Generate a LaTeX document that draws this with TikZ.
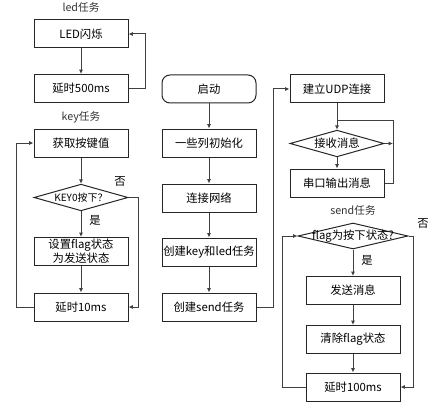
\documentclass[tikz,border=0pt]{standalone}
\usepackage{fontspec}
\setmainfont{Noto Sans CJK SC}
\usetikzlibrary{arrows.meta,calc,shapes.geometric}
\definecolor{lineGray}{HTML}{404040}
\tikzset{
  font=\fontsize{8.5}{10.5}\selectfont,
  arrow/.style={-{Latex[length=3.2pt,width=3pt]},draw=lineGray,line width=0.75pt},
  link/.style={draw=lineGray,line width=0.75pt},
  box/.style={rectangle,draw=black!85,line width=0.75pt,fill=white,
    minimum width=70.5pt,minimum height=21pt,inner sep=0pt,align=center},
  startbox/.style={box,rounded corners=6pt},
  decision/.style={diamond,draw=black!85,line width=0.75pt,fill=white,inner sep=0pt,
    minimum width=70.5pt,minimum height=20pt},
  tasktitle/.style={font=\fontsize{8}{10}\selectfont,text=black!80},
  yesno/.style={font=\fontsize{8.5}{10}\selectfont},
}
\begin{document}
\begin{tikzpicture}[x=0.75pt,y=-0.75pt]
\useasboundingbox (0,0) rectangle (432,403);

% led task
\node[tasktitle] (ledtitle) at (81,7) {led任务};
\node[box] (led) at (81,34) {LED闪烁};
\node[box] (delay500) at (81,88.5) {延时500ms};
\draw[arrow] (led) -- (delay500);
\draw[arrow] (delay500.east) -- ++(17,0) |- (led.east);

% key task
\node[tasktitle] (keytitle) at (81,117) {key任务};
\node[box] (getkey) at (81,143) {获取按键值};
\node[decision] (keydia) at (81,197.5) [label={[font=\fontsize{7.5}{9}\selectfont]center:KEY0按下？}] {};
\node[box] (setflag) at (81,251.5) {设置flag状态\\为发送状态};
\node[box] (delay10) at (81,307) {延时10ms};
\node[yesno] (keyno) at (120,182) {否};
\node[yesno] (keyyes) at (95,220) {是};
\draw[arrow] (getkey) -- (keydia);
\draw[arrow] (keydia) -- (setflag);
\draw[arrow] (setflag) -- (delay10);
\draw[arrow] (keydia.east) -- ++(10,0) |- (delay10.east);
\draw[arrow] (delay10.west) -- ++(-17,0) |- (getkey.west);

% main flow
\node[startbox] (start) at (209,89) {启动};
\node[box] (init) at (209,143) {一些列初始化};
\node[box] (net) at (209,198) {连接网络};
\node[box] (create) at (209,252) {创建key和led任务};
\node[box] (createsend) at (209,307) {创建send任务};
\draw[arrow] (start) -- (init);
\draw[arrow] (init) -- (net);
\draw[arrow] (net) -- (create);
\draw[arrow] (create) -- (createsend);

% udp
\node[box] (udp) at (337,89) {建立UDP连接};
\node[decision] (recvdia) at (337,143.5) [label=center:接收消息] {};
\node[box] (uart) at (337,183) {串口输出消息};
\coordinate (recvjoin) at (337,120);
\coordinate (recvloop) at (393,120);
\draw[arrow] (createsend.east) -- ++(17,0) |- (udp.west);
\draw[arrow] (udp) -- (recvdia);
\draw[arrow] (recvdia) -- (uart);
\draw[link] (uart.east) -| (recvloop) -- (recvjoin);
\draw[arrow] (recvdia.east) -- (recvdia.east -| recvloop);

% send task
\node[tasktitle] (sendtitle) at (353,210) {send任务};
\node[decision,minimum width=82.5pt,minimum height=19.5pt] (flagdia) at (353,236) [label=center:flag为按下状态?] {};
\node[box] (sendmsg) at (353,290.5) {发送消息};
\node[box] (clear) at (353,339.5) {清除flag状态};
\node[box] (delay100) at (353,387) {延时100ms};
\node[yesno] (flagno) at (423,224) {否};
\node[yesno] (flagyes) at (367,260) {是};
\draw[arrow] (flagdia) -- (sendmsg);
\draw[arrow] (sendmsg) -- (clear);
\draw[arrow] (clear) -- (delay100);
\draw[arrow] (flagdia.east) -- ++(5,0) |- (delay100.east);
\draw[arrow] (delay100.west) -- ++(-23,0) |- (flagdia.west);
\end{tikzpicture}
\end{document}
